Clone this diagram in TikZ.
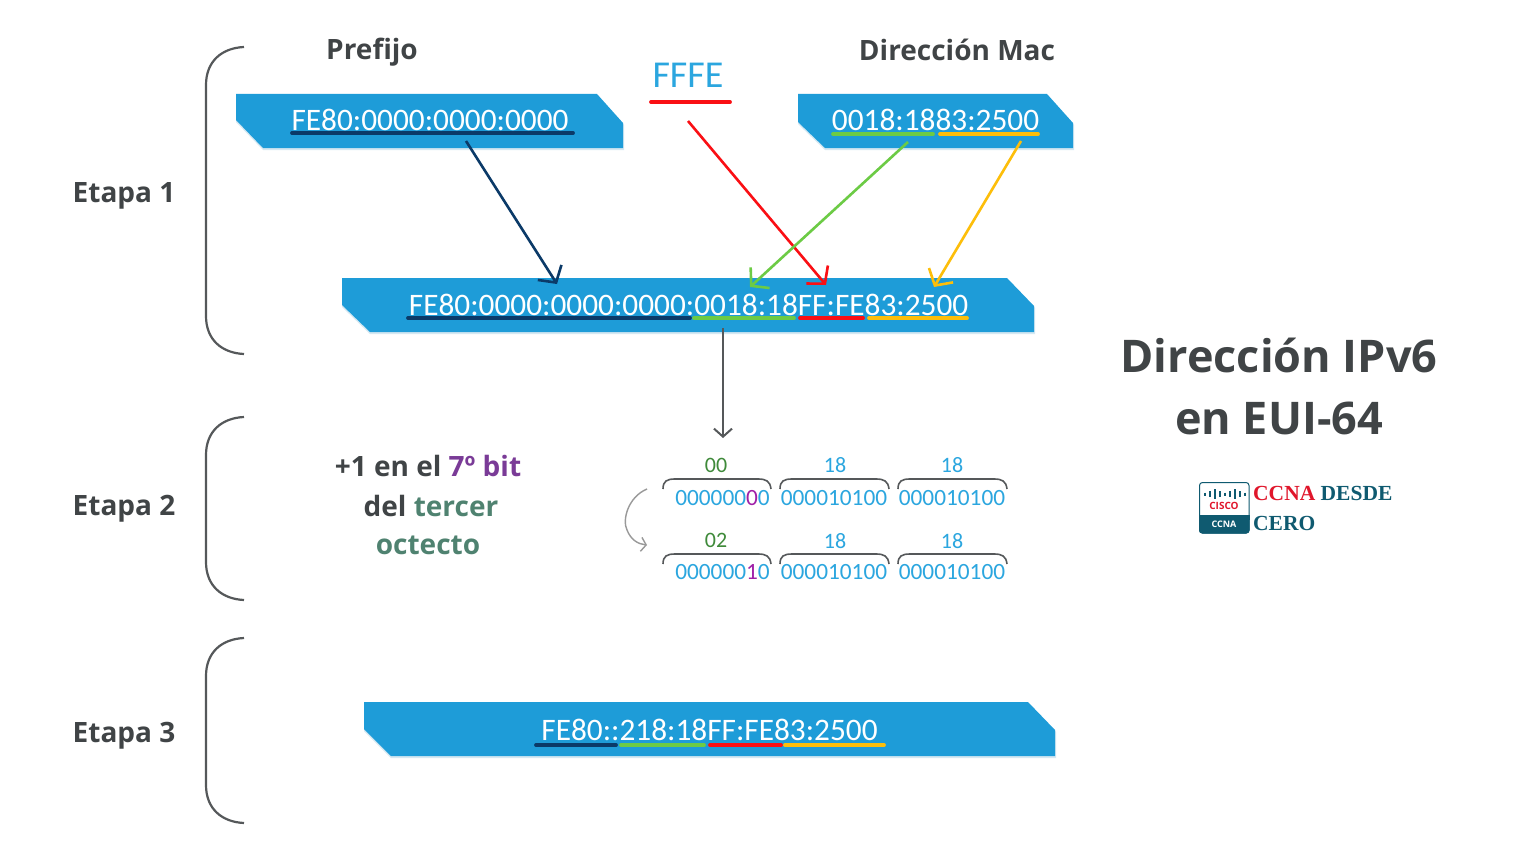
\documentclass[tikz,border=0pt]{standalone}
\usepackage{fontspec}
\usepackage{xcolor}
\usetikzlibrary{arrows.meta,calc}
\newfontfamily\carl{Carlito}
\newfontfamily\osans{Open Sans}
\newfontfamily\lserif{Liberation Serif}
\definecolor{barblue}{HTML}{1E9CD8}
\definecolor{barshadow}{HTML}{D5E8F2}
\definecolor{txtblue}{HTML}{2BA6DF}
\definecolor{navy}{HTML}{0B3A68}
\definecolor{lgreen}{HTML}{6CCB45}
\definecolor{lred}{HTML}{FA0F14}
\definecolor{lyellow}{HTML}{FDBE0A}
\definecolor{darktxt}{HTML}{404446}
\definecolor{brk}{HTML}{55585A}
\definecolor{lpurple}{HTML}{7A3B97}
\definecolor{lteal}{HTML}{4F8270}
\definecolor{dgreen}{HTML}{3F8A3A}
\definecolor{bitpurple}{HTML}{A020A8}
\definecolor{logoteal}{HTML}{0F5A70}
\definecolor{logored}{HTML}{E0162B}
\newcommand{\fsz}[1]{\fontsize{#1}{#1}\selectfont}
\tikzset{
  x=1pt,y=-1pt,
  barfill/.style={fill=barblue,draw=none},
  barshade/.style={fill=barshadow,draw=none},
  bartext/.style={inner sep=0pt,text=white,font=\carl\fsz{31.3}},
  head/.style={inner sep=0pt,text=darktxt,font=\osans\bfseries\fsz{28}},
  title/.style={inner sep=0pt,text=darktxt,font=\osans\bfseries\fsz{45}},
  note/.style={inner sep=0pt,text=darktxt,font=\osans\bfseries\fsz{28}},
  bits/.style={inner sep=0pt,text=txtblue,font=\carl\fsz{23.3}},
  hexv/.style={inner sep=0pt,text=txtblue,font=\carl\fsz{22}},
  uline/.style={line width=3.8pt,line cap=round},
  barrow/.style={line width=2.6pt,-{Straight Barb[length=12pt,width=28pt,line width=2.6pt]}},
  bracket/.style={draw=brk,line width=2.2pt,fill=none},
  minib/.style={draw=brk,line width=1.6pt,fill=none},
  logotext/.style={inner sep=0pt,font=\lserif\bfseries\fsz{21.5}}
}
\begin{document}
\begin{tikzpicture}
\useasboundingbox (0,0) rectangle (1536,864);
\fill[white] (0,0) rectangle (1536,864);

% brackets
\foreach \t/\b in {47/354,417/600,638/823}{
  \draw[bracket] (244,\t) .. controls (222,\t+1) and (206,\t+14) .. (206,\t+38)
    -- (206,\b-38) .. controls (206,\b-14) and (222,\b-1) .. (244,\b);
}

% bar shadows and bars
\foreach \dy in {2}{
  \fill[barshade] (236,94+\dy) -- (597,94+\dy) -- (624,123+\dy) -- (624,148+\dy) -- (263,148+\dy) -- (236,120+\dy) -- cycle;
  \fill[barshade] (798,94+\dy) -- (1047,94+\dy) -- (1074,123+\dy) -- (1074,148+\dy) -- (825,148+\dy) -- (798,122+\dy) -- cycle;
  \fill[barshade] (342,278+\dy) -- (1007,278+\dy) -- (1035,306+\dy) -- (1035,332+\dy) -- (370,332+\dy) -- (342,305+\dy) -- cycle;
  \fill[barshade] (364,702+\dy) -- (1028,702+\dy) -- (1056,730+\dy) -- (1056,756+\dy) -- (391,756+\dy) -- (364,729+\dy) -- cycle;
}
\fill[barfill] (236,94) -- (597,94) -- (623,123) -- (623,148) -- (263,148) -- (236,120) -- cycle;
\fill[barfill] (798,94) -- (1047,94) -- (1073,123) -- (1073,148) -- (825,148) -- (798,122) -- cycle;
\fill[barfill] (342,278) -- (1007,278) -- (1034,306) -- (1034,332) -- (370,332) -- (342,305) -- cycle;
\fill[barfill] (364,702) -- (1028,702) -- (1055,730) -- (1055,756) -- (391,756) -- (364,729) -- cycle;

% headings
\node[head] (prefijo) at (372,52.5) {Prefijo};
\node[head] (dirmac) at (957,50) {Dirección Mac};
\node[inner sep=0pt,text=txtblue,font=\carl\fsz{38}] (fffe) at (688,75) {FFFE};
\node[head] (et1) at (124,195.5) {Etapa 1};
\node[head] (et2) at (124,508.5) {Etapa 2};
\node[head] (et3) at (124,735.5) {Etapa 3};

% bar texts
\node[bartext] (pre) at (430,120) {FE80:0000:0000:0000};
\node[bartext] (mac) at (935.5,120) {0018:1883:2500};
\node[bartext] (full) at (688.5,305) {FE80:0000:0000:0000:0018:18FF:FE83:2500};
\node[bartext] (short) at (709.5,730) {FE80::218:18FF:FE83:2500};

% underlines
\coordinate (ua) at (292,133); \coordinate (ub) at (573,133);
\draw[uline,navy] (ua) -- (ub);
\coordinate (uc) at (833,134); \coordinate (ud) at (933,134);
\draw[uline,lgreen] (uc) -- (ud);
\coordinate (ue) at (940,134); \coordinate (uf) at (1038,134);
\draw[uline,lyellow] (ue) -- (uf);
\coordinate (fa) at (651,102); \coordinate (fb) at (730,102);
\draw[uline,lred] (fa) -- (fb);
\coordinate (la) at (408,318); \coordinate (lb) at (690,318);
\draw[uline,navy] (la) -- (lb);
\coordinate (lc) at (694,318); \coordinate (ld) at (794,318);
\draw[uline,lgreen] (lc) -- (ld);
\coordinate (le) at (800,318); \coordinate (lf) at (863,318);
\draw[uline,lred] (le) -- (lf);
\coordinate (lg) at (869,318); \coordinate (lh) at (967,318);
\draw[uline,lyellow] (lg) -- (lh);
\coordinate (sa) at (536,745); \coordinate (sb) at (616,745);
\draw[uline,navy] (sa) -- (sb);
\coordinate (sc) at (621,745); \coordinate (sd) at (704,745);
\draw[uline,lgreen] (sc) -- (sd);
\coordinate (se) at (710,745); \coordinate (sf) at (781,745);
\draw[uline,lred] (se) -- (sf);
\coordinate (sg) at (785,745); \coordinate (sh) at (884,745);
\draw[uline,lyellow] (sg) -- (sh);

% arrows
\coordinate (a1s) at (466,141); \coordinate (a1e) at (557,284);
\draw[barrow,navy] (a1s) -- (a1e);
\coordinate (a2s) at (688,121); \coordinate (a2e) at (826,285);
\draw[barrow,lred] (a2s) -- (a2e);
\coordinate (a3s) at (908,142); \coordinate (a3e) at (750,287);
\draw[barrow,lgreen] (a3s) -- (a3e);
\coordinate (a4s) at (1021,141); \coordinate (a4e) at (934,287);
\draw[barrow,lyellow] (a4s) -- (a4e);
\coordinate (a5s) at (723,328); \coordinate (a5e) at (723,438);
\draw[brk,line width=2pt,-{Straight Barb[length=8pt,width=18pt,line width=2pt]}] (a5s) -- (a5e);

% stage 2 note
\node[note] (n1) at (428,466) {+1 en el \textcolor{lpurple}{7º bit}};
\node[note] (n2) at (431,506) {del \textcolor{lteal}{tercer}};
\node[note,text=lteal] (n3) at (428,545.5) {octecto};

% bit groups
\foreach \yb/\yh/\yt/\hexa/\hy/\bitsa in {%
  479/465/498/00/465/{000000\textcolor{bitpurple}{0}0},%
  554/541/572/02/540/{000000\textcolor{bitpurple}{1}0}}{
  \draw[minib] (663,\yb+10) .. controls (663,\yb+2) and (667,\yb) .. (675,\yb) -- (758,\yb) .. controls (766,\yb) and (770,\yb+2) .. (771,\yb+10);
  \draw[minib] (780,\yb+10) .. controls (780,\yb+2) and (784,\yb) .. (792,\yb) -- (876,\yb) .. controls (884,\yb) and (888,\yb+2) .. (889,\yb+10);
  \draw[minib] (898,\yb+10) .. controls (898,\yb+2) and (902,\yb) .. (910,\yb) -- (994,\yb) .. controls (1002,\yb) and (1006,\yb+2) .. (1007,\yb+10);
  \node[hexv,text=dgreen] at (716,\hy) {\hexa};
  \node[hexv] at (835,\yh) {18};
  \node[hexv] at (952,\yh) {18};
  \node[bits] at (722.5,\yt) {\bitsa};
  \node[bits] at (834,\yt) {000010100};
  \node[bits] at (952,\yt) {000010100};
}
\coordinate (cs) at (647,489); \coordinate (ce) at (647,545);
\draw[gray!80,line width=1.4pt,-{Straight Barb[length=5pt,width=14pt,line width=1.4pt]}] (cs) .. controls (628,497) and (622,520) .. (627,530) .. controls (631,540) and (638,544) .. (ce);

% title
\node[title] (t1) at (1279,355.5) {Dirección IPv6};
\node[title] (t2) at (1279,418) {en EUI-64};

% logo
\draw[logoteal,line width=1pt,rounded corners=3pt,fill=white] (1199.5,482.5) rectangle (1249,533);
\fill[logoteal,rounded corners=3pt] (1199,515) rectangle (1249.5,533.5);
\fill[logoteal] (1199,515) rectangle (1249.5,520);
\foreach \x/\h in {1205/1.5,1210/3,1215/5,1220/3,1225/1.5,1230/3,1235/5,1240/3,1245/1.5}{
  \draw[logoteal,line width=1.2pt] (\x,494-\h) -- (\x,494+\h);
}
\node[inner sep=0pt,text=logored,font=\osans\bfseries\fsz{10}] (lgc) at (1224,506) {CISCO};
\node[inner sep=0pt,text=white,font=\osans\bfseries\fsz{9}] (lgn) at (1224,524) {CCNA};
\node[logotext,anchor=west] (lg1) at (1253,493) {\textcolor{logored}{CCNA} \textcolor{logoteal}{DESDE}};
\node[logotext,anchor=west,text=logoteal] (lg2) at (1253,523) {CERO};
\end{tikzpicture}
\end{document}
